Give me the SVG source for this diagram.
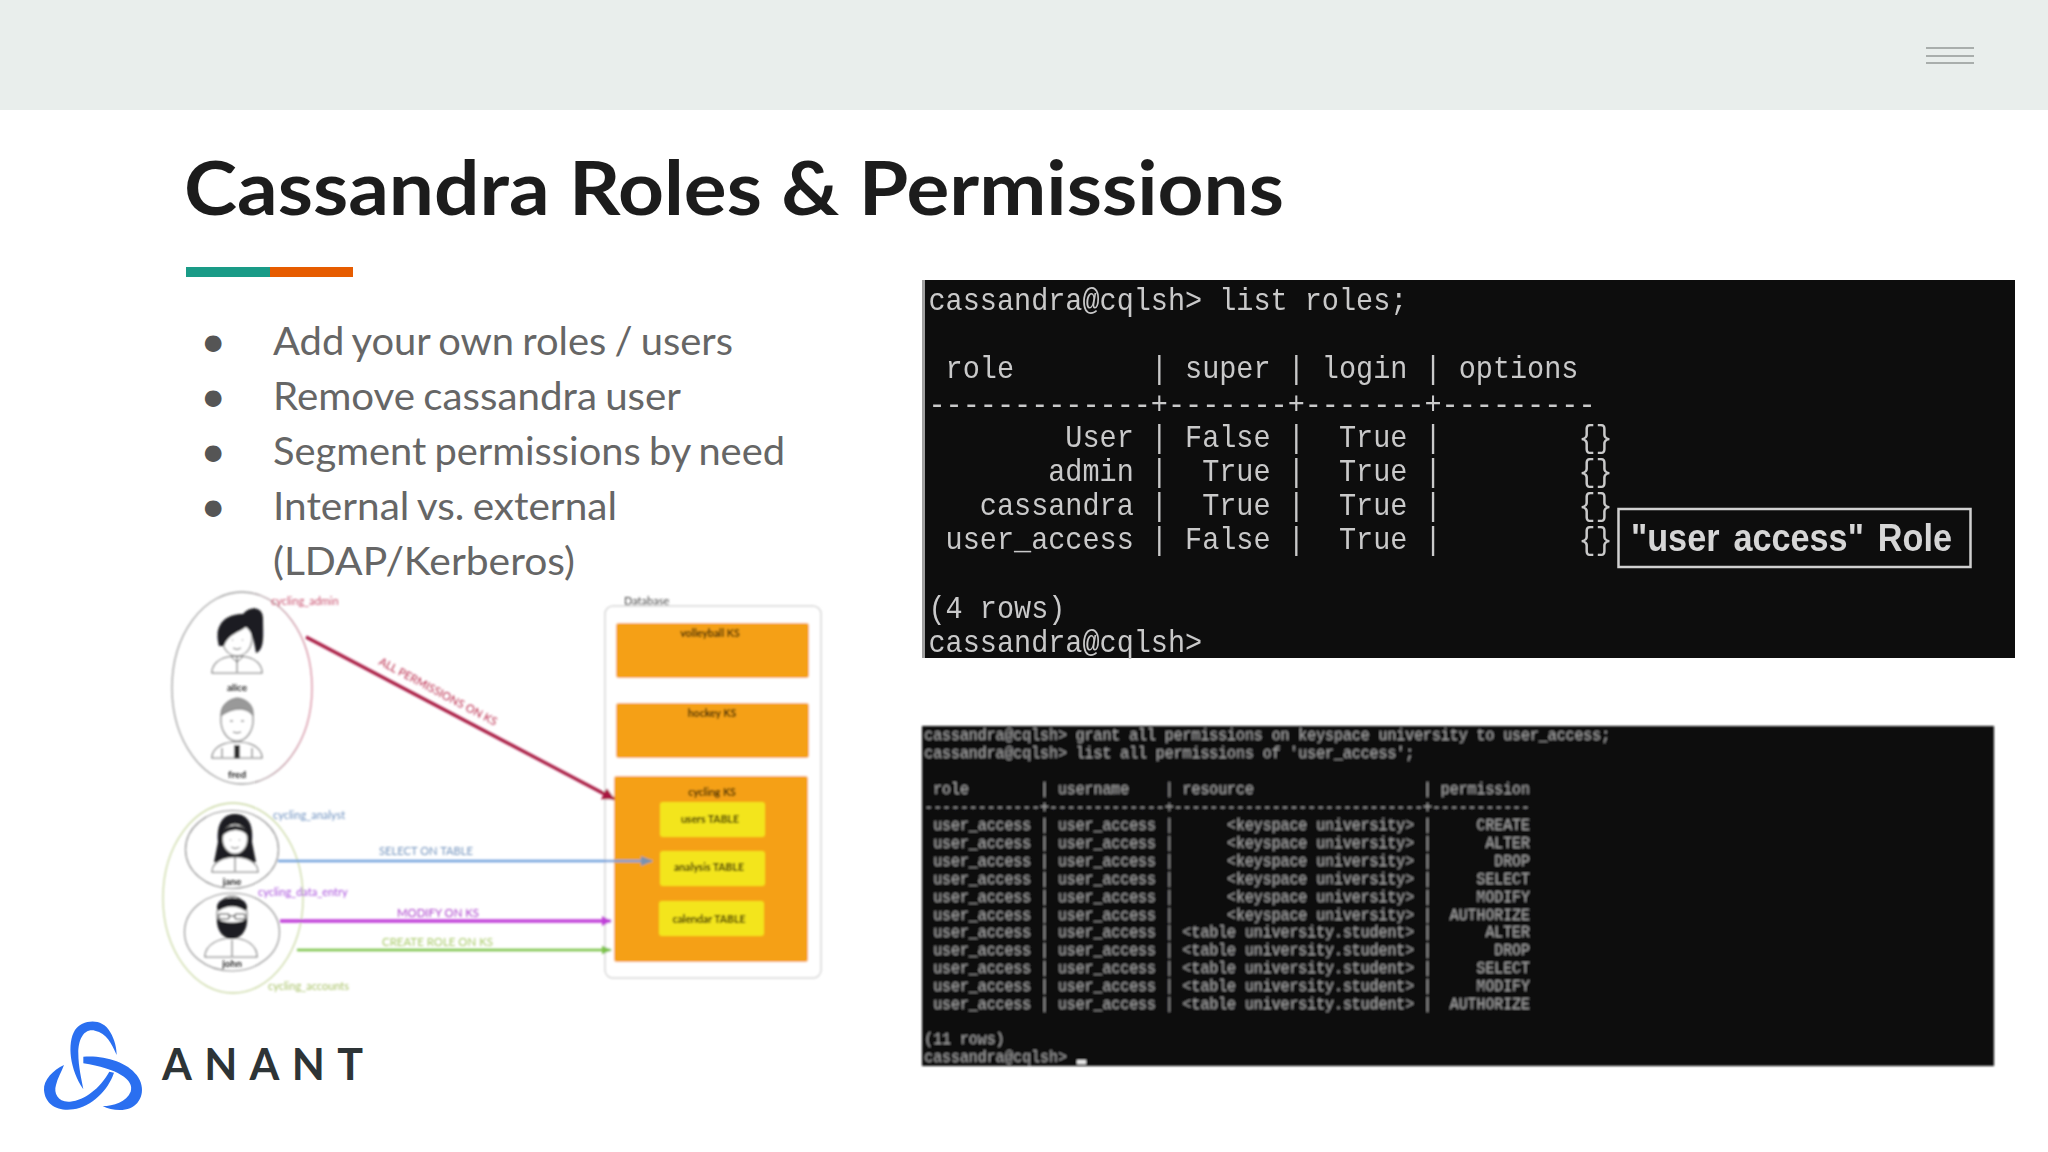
<svg xmlns="http://www.w3.org/2000/svg" width="2048" height="1152" viewBox="0 0 2048 1152">
<style>
.t1{font-family:"Liberation Mono",monospace;font-size:31.5px;fill:#c9c9c9}
.t2{font-family:"Liberation Mono",monospace;font-size:16.5px;fill:#a8a8a8}
.bul{font-family:Lato,sans-serif;font-size:39px;fill:#666;word-spacing:-2px}
.dot{font-family:Lato,sans-serif;font-size:34px;fill:#555}
.lab{font-family:Lato,sans-serif;font-size:11px}
.who{font-family:Lato,sans-serif;font-size:10px;fill:#222;text-anchor:middle;font-weight:700}
.ks{fill:#f5a017}
.tb{fill:#f3e51c}
.kl{font-family:Lato,sans-serif;font-size:10.5px;fill:#2a1e04;text-anchor:middle;font-weight:700}
.face{fill:#fff;stroke:#666;stroke-width:1.100}
.dark{fill:#1e1e20}
.ln{fill:none;stroke:#444;stroke-width:0.9}
.con{fill:none}
</style>
<defs>
<filter id="b1" x="-5%" y="-5%" width="110%" height="110%"><feGaussianBlur stdDeviation="0.55"/></filter>
<filter id="b2" x="-5%" y="-5%" width="110%" height="110%"><feGaussianBlur stdDeviation="0.85"/></filter>
<filter id="b3" x="-5%" y="-5%" width="110%" height="110%"><feGaussianBlur stdDeviation="0.8"/></filter>
<linearGradient id="adm" x1="0" y1="0" x2="1" y2="0"><stop offset="0" stop-color="#a0a0a0"/><stop offset="0.55" stop-color="#a0a0a0"/><stop offset="1" stop-color="#d88a9e"/></linearGradient>
<marker id="mr" markerWidth="4" markerHeight="4" refX="3.6" refY="2" orient="auto"><path d="M0,0L4,2L0,4Z" fill="#a81540"/></marker>
<marker id="mb" markerWidth="5" markerHeight="5" refX="4.5" refY="2.5" orient="auto"><path d="M0,0.5L5,2.5L0,4.5Z" fill="#7a93b0"/></marker>
<marker id="mp" markerWidth="3" markerHeight="3" refX="2.7" refY="1.5" orient="auto"><path d="M0,0L3,1.5L0,3Z" fill="#c03fd8"/></marker>
<marker id="mg" markerWidth="4" markerHeight="4" refX="3.6" refY="2" orient="auto"><path d="M0,0.3L4,2L0,3.7Z" fill="#7cc24a"/></marker>
</defs>
<rect width="2048" height="1152" fill="#fff"/>
<g id="header">
<rect width="2048" height="110" fill="#e9eeec"/>
<path d="M1926,48H1974M1926,56H1974M1926,63H1974" stroke="#a9aeac" stroke-width="2" fill="none"/>
</g>
<g id="title">
<text x="184" y="215" font-family="Lato,sans-serif" font-weight="700" font-size="74" fill="#1c1c1c" textLength="1100" lengthAdjust="spacingAndGlyphs">Cassandra Roles &amp; Permissions</text>
<rect x="186" y="267" width="84" height="10" fill="#1a9b87"/>
<rect x="270" y="267" width="83" height="10" fill="#e65c00"/>
</g>
<g id="bullets">
<g class="dot"><text x="203" y="354">●</text><text x="203" y="409">●</text><text x="203" y="464">●</text><text x="203" y="519">●</text></g>
<g class="bul">
<text x="273" y="355" textLength="460" lengthAdjust="spacingAndGlyphs">Add your own roles / users</text>
<text x="273" y="410" textLength="408" lengthAdjust="spacingAndGlyphs">Remove cassandra user</text>
<text x="273" y="465" textLength="512" lengthAdjust="spacingAndGlyphs">Segment permissions by need</text>
<text x="273" y="520" textLength="344" lengthAdjust="spacingAndGlyphs">Internal vs. external</text>
<text x="273" y="575" textLength="302" lengthAdjust="spacingAndGlyphs">(LDAP/Kerberos)</text>
</g>
</g>
<g id="terminal-roles" filter="url(#b1)">
<rect x="922" y="280" width="1093" height="378" fill="#0c0c0e"/>
<rect x="922" y="280" width="3" height="378" fill="#a0a0a0"/>
<g class="t1" transform="scale(0.905,1)">
<text xml:space="preserve" x="1026" y="310">cassandra@cqlsh&gt; list roles;</text>
<text xml:space="preserve" x="1026" y="378"> role        | super | login | options</text>
<text xml:space="preserve" x="1026" y="414">-------------+-------+-------+---------</text>
<text xml:space="preserve" x="1026" y="447">        User | False |  True |        {}</text>
<text xml:space="preserve" x="1026" y="481">       admin |  True |  True |        {}</text>
<text xml:space="preserve" x="1026" y="515">   cassandra |  True |  True |        {}</text>
<text xml:space="preserve" x="1026" y="549"> user_access | False |  True |        {}</text>
<text xml:space="preserve" x="1026" y="618">(4 rows)</text>
<text xml:space="preserve" x="1026" y="652">cassandra@cqlsh&gt;</text>
</g>
</g>
<g id="role-callout" filter="url(#b1)">
<rect x="1618.500" y="509" width="352" height="58" fill="#0c0c0e" stroke="#d0d0d0" stroke-width="2.500"/>
<text x="1631" y="551" font-family="Liberation Sans,sans-serif" font-weight="700" font-size="38" fill="#d6d6d6" word-spacing="5" textLength="321" lengthAdjust="spacingAndGlyphs">"user access" Role</text>
</g>
<g id="terminal-permissions" filter="url(#b2)">
<rect x="922" y="726" width="1072" height="340" fill="#0c0c0e"/>
<g class="t2" transform="scale(0.9,1)">
<text xml:space="preserve" x="1027" y="740">cassandra@cqlsh&gt; grant all permissions on keyspace university to user_access;</text>
<text xml:space="preserve" x="1027" y="758">cassandra@cqlsh&gt; list all permissions of 'user_access';</text>
<text xml:space="preserve" x="1027" y="794"> role        | username    | resource                   | permission</text>
<text xml:space="preserve" x="1027" y="812">-------------+-------------+----------------------------+-----------</text>
<text xml:space="preserve" x="1027" y="830"> user_access | user_access |      &lt;keyspace university&gt; |     CREATE</text>
<text xml:space="preserve" x="1027" y="848"> user_access | user_access |      &lt;keyspace university&gt; |      ALTER</text>
<text xml:space="preserve" x="1027" y="866"> user_access | user_access |      &lt;keyspace university&gt; |       DROP</text>
<text xml:space="preserve" x="1027" y="884"> user_access | user_access |      &lt;keyspace university&gt; |     SELECT</text>
<text xml:space="preserve" x="1027" y="902"> user_access | user_access |      &lt;keyspace university&gt; |     MODIFY</text>
<text xml:space="preserve" x="1027" y="920"> user_access | user_access |      &lt;keyspace university&gt; |  AUTHORIZE</text>
<text xml:space="preserve" x="1027" y="937"> user_access | user_access | &lt;table university.student&gt; |      ALTER</text>
<text xml:space="preserve" x="1027" y="955"> user_access | user_access | &lt;table university.student&gt; |       DROP</text>
<text xml:space="preserve" x="1027" y="973"> user_access | user_access | &lt;table university.student&gt; |     SELECT</text>
<text xml:space="preserve" x="1027" y="991"> user_access | user_access | &lt;table university.student&gt; |     MODIFY</text>
<text xml:space="preserve" x="1027" y="1009"> user_access | user_access | &lt;table university.student&gt; |  AUTHORIZE</text>
<text xml:space="preserve" x="1027" y="1044">(11 rows)</text>
<text xml:space="preserve" x="1027" y="1062">cassandra@cqlsh&gt;</text>
</g>
<rect x="1077" y="1060" width="9" height="4" fill="#e8e8e8"/>
</g>
<g id="diagram" filter="url(#b3)">
<g id="database">
<rect x="605" y="606" width="216" height="372" rx="8" fill="#fff" stroke="#d6d6d6" stroke-width="1.500"/>
<text x="624" y="605" class="lab" fill="#444">Database</text>
</g>
<g id="ks-volleyball"><rect class="ks" x="616" y="623" width="193" height="55" rx="3"/><text class="kl" x="710" y="637">volleyball KS</text></g>
<g id="ks-hockey"><rect class="ks" x="616" y="703" width="193" height="55" rx="3"/><text class="kl" x="712" y="717">hockey KS</text></g>
<g id="ks-cycling"><rect class="ks" x="614" y="776" width="194" height="186" rx="3"/><text class="kl" x="712" y="796">cycling KS</text></g>
<g id="table-users"><rect class="tb" x="660" y="802" width="105" height="35" rx="3"/><text class="kl" x="710" y="823">users TABLE</text></g>
<g id="table-analysis"><rect class="tb" x="660" y="851" width="105" height="35" rx="3"/><text class="kl" x="709" y="871">analysis TABLE</text></g>
<g id="table-calendar"><rect class="tb" x="659" y="901" width="105" height="35" rx="3"/><text class="kl" x="709" y="923">calendar TABLE</text></g>
<g id="role-admin">
<ellipse cx="242" cy="688" rx="70" ry="96" fill="none" stroke="url(#adm)" stroke-width="1.300"/>
<text x="271" y="605" class="lab" fill="#c8506e">cycling_admin</text>
</g>
<g id="role-accounts">
<ellipse cx="233" cy="898" rx="70" ry="95" fill="none" stroke="#c9d8a2" stroke-width="1.300"/>
<text x="268" y="990" class="lab" fill="#a8c268">cycling_accounts</text>
</g>
<g id="role-analyst">
<ellipse cx="232" cy="849.500" rx="46.500" ry="39" fill="none" stroke="#959595" stroke-width="1.200"/>
<text x="273" y="819" class="lab" fill="#6f92c0">cycling_analyst</text>
</g>
<g id="role-data-entry">
<ellipse cx="232" cy="932" rx="47.500" ry="39" fill="none" stroke="#959595" stroke-width="1.200"/>
<text x="258" y="896" class="lab" fill="#a850dc">cycling_data_entry</text>
</g>
<g id="user-alice">
<path class="face" d="M212,673C212,660 226,656 237,656C248,656 262,660 262,673Z"/>
<path class="ln" d="M237,656V672M230,656L237,662L244,656"/>
<ellipse class="face" cx="237" cy="638" rx="15" ry="18"/>
<path class="dark" d="M219,646C213,624 226,614 243,614C250,605 264,606 263,620C263,634 265,650 256,653C254,640 252,632 246,627C240,632 228,634 224,646Z"/>
<path class="ln" d="M232,640h1M242,640h1M233,648Q237,651 241,648"/>
<text class="who" x="237" y="691">alice</text>
</g>
<g id="user-fred">
<path class="face" d="M212,758C212,746 226,742 237,742C248,742 262,746 262,758Z"/>
<rect x="234" y="745" width="6" height="13" fill="#333"/>
<path class="ln" d="M222,748v9M252,748v9"/>
<ellipse class="face" cx="237" cy="720" rx="16" ry="21"/>
<path d="M221,716C220,702 234,698 238,698C250,700 254,708 253,716C246,706 232,708 221,716Z" fill="#999" stroke="#666" stroke-width="0.700"/>
<path class="ln" d="M230,721h3M241,721h3M233,732Q237,734 241,732"/>
<text class="who" x="237" y="778">fred</text>
</g>
<g id="user-jane">
<path class="dark" d="M218,842C216,820 226,814 235,814C246,814 254,822 252,842L256,862H214Z"/>
<path class="face" d="M212,872C212,862 224,857 235,857C246,857 258,862 258,872Z"/>
<path class="ln" d="M235,857V871"/>
<ellipse class="face" cx="235" cy="839" rx="12.500" ry="15"/>
<path class="dark" d="M222,836C224,822 246,822 248,836C242,828 230,828 222,836Z"/>
<path class="ln" d="M230,840h1M239,840h1M231,847Q235,850 239,847"/>
<text class="who" x="232" y="885">jane</text>
</g>
<g id="user-john">
<path class="face" d="M205,957C205,944 220,938 232,938C244,938 257,944 257,957Z"/>
<path class="ln" d="M232,940V956"/>
<ellipse class="face" cx="232" cy="915" rx="15" ry="19"/>
<path class="dark" d="M217,908C216,894 248,894 247,908L245,911C238,905 226,905 219,911ZM217,918C222,924 242,924 247,918C248,931 240,939 232,939C224,939 216,931 217,918Z"/>
<path d="M219,914h10v5h-10zM235,914h10v5h-10zM229,916h6" fill="none" stroke="#333" stroke-width="1"/>
<text class="who" x="232" y="967">john</text>
</g>
<g id="connectors" class="con">
<path d="M306,637L614,799" stroke="#a81540" stroke-width="3.200" marker-end="url(#mr)"/>
<path d="M278,861H652" stroke="#6fa0dc" stroke-width="2.500" marker-end="url(#mb)"/>
<path d="M280,921H611" stroke="#c03fd8" stroke-width="3.500" marker-end="url(#mp)"/>
<path d="M297,950H611" stroke="#7cc24a" stroke-width="2.500" marker-end="url(#mg)"/>
<text class="lab" transform="translate(378,664) rotate(28)" fill="#b82648" textLength="132" lengthAdjust="spacingAndGlyphs">ALL PERMISSIONS ON KS</text>
<text class="lab" x="379" y="855" fill="#7394be" textLength="94" lengthAdjust="spacingAndGlyphs">SELECT ON TABLE</text>
<text class="lab" x="397" y="917" fill="#ab40cc" textLength="82" lengthAdjust="spacingAndGlyphs">MODIFY ON KS</text>
<text class="lab" x="382" y="946" fill="#a8ca68" textLength="111" lengthAdjust="spacingAndGlyphs">CREATE ROLE ON KS</text>
</g>
</g>
<g id="logo">
<g transform="translate(20,1000) scale(0.3333)" fill="#2a6ff0">
<path d="M190,268C150,210 140,130 165,90C185,60 245,50 270,95C285,120 290,145 290,165C275,130 260,100 225,92C190,85 175,120 175,160C175,200 185,240 190,268Z"/>
<path d="M190,170C250,165 320,185 350,225C380,265 365,310 330,325C305,335 270,330 248,318C280,318 320,305 332,275C345,240 290,205 190,190Z"/>
<path d="M132,195C100,210 70,240 72,270C75,315 115,335 160,328C215,320 265,270 282,218L268,215C240,265 195,300 150,305C115,308 100,280 108,255C112,235 125,215 132,195Z"/>
</g>
<text x="162" y="1080" font-family="Lato,sans-serif" font-weight="700" font-size="43" fill="#2d3436" textLength="201">ANANT</text>
</g>
</svg>
